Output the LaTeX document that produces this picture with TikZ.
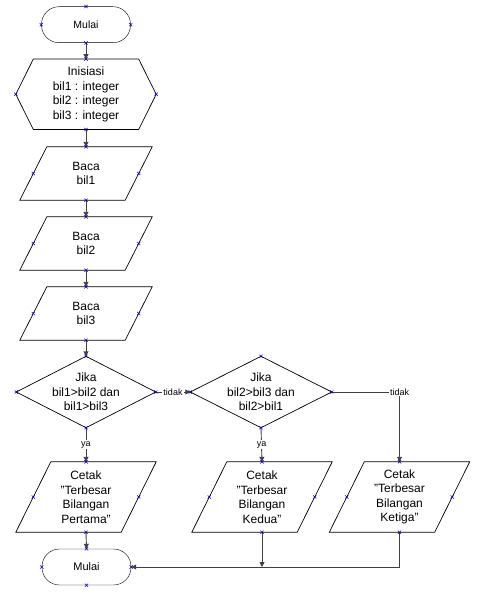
\documentclass[tikz,border=0pt]{standalone}
\usepackage{fontspec}
\setmainfont{Liberation Sans}
\usetikzlibrary{arrows.meta}

\begin{document}
\begin{tikzpicture}[x=1pt, y=-1pt,
    txt/.style={align=center, inner sep=0pt, font=\fontsize{12}{14.5}\selectfont},
    term/.style={draw, rounded corners=17.5pt, minimum width=89pt, minimum height=36pt, inner sep=0pt},
    shp/.style={line width=0.7pt},
    line/.style={draw=black!75, line width=0.9pt, -{Triangle[length=5pt,width=5pt]}},
    lbl/.style={fill=white, inner sep=1pt, font=\fontsize{9}{10}\selectfont},
    cp/.style={draw=blue!70!black, line width=0.5pt}]
    \useasboundingbox (0,0) rectangle (479,594);

    \node[term, font=\fontsize{10.5}{12}\selectfont] (m1) at (86,24.7) {Mulai};
    \node[txt, minimum width=140pt, minimum height=70pt] (init) at (86,94.3)
      {Inisiasi\\bil1 : integer\\bil2 : integer\\bil3 : integer};
    \draw[shp] ([xshift=17.5pt]init.north west) -- ([xshift=-17.5pt]init.north east) -- (init.east)
      -- ([xshift=-17.5pt]init.south east) -- ([xshift=17.5pt]init.south west) -- (init.west) -- cycle;

    \node[txt, minimum width=132pt, minimum height=53pt] (b1) at (86,173.5) {Baca\\bil1};
    \node[txt, minimum width=132pt, minimum height=53pt] (b2) at (86,243.5) {Baca\\bil2};
    \node[txt, minimum width=132pt, minimum height=53pt] (b3) at (86,313.5) {Baca\\bil3};
    \foreach \n in {b1,b2,b3}
      \draw[shp] ([xshift=27pt]\n.north west) -- (\n.north east) -- ([xshift=-27pt]\n.south east) -- (\n.south west) -- cycle;

    \node[txt, minimum width=139pt, minimum height=71pt] (d1) at (86,392) {Jika\\bil1>bil2 dan\\bil1>bil3};
    \node[txt, minimum width=141pt, minimum height=71pt] (d2) at (261,392) {Jika\\bil2>bil3 dan\\bil2>bil1};
    \foreach \n in {d1,d2}
      \draw[shp] (\n.north) -- (\n.east) -- (\n.south) -- (\n.west) -- cycle;

    \node[txt, minimum width=140pt, minimum height=70pt] (c1) at (86,497) {Cetak\\"Terbesar\\Bilangan\\Pertama"};
    \node[txt, minimum width=140pt, minimum height=70pt] (c2) at (262,497) {Cetak\\"Terbesar\\Bilangan\\Kedua"};
    \node[txt, minimum width=140pt, minimum height=70pt] (c3) at (399.5,497) {Cetak\\"Terbesar\\Bilangan\\Ketiga"};
    \foreach \n in {c1,c2,c3}
      \draw[shp] ([xshift=35pt]\n.north west) -- (\n.north east) -- ([xshift=-35pt]\n.south east) -- (\n.south west) -- cycle;

    \node[term, font=\fontsize{11}{13}\selectfont] (m2) at (86.5,567) {Mulai};

    \draw[line] (m1.south) -- (init.north);
    \draw[line] (init.south) -- (b1.north);
    \draw[line] (b1.south) -- (b2.north);
    \draw[line] (b2.south) -- (b3.north);
    \draw[line] (b3.south) -- (d1.north);
    \draw[line] (d1.east) -- node[lbl]{tidak} (d2.west);
    \draw[line] (d1.south) -- node[lbl]{ya} (c1.north);
    \draw[line] (d2.south) -- node[lbl]{ya} (c2.north);
    \draw[line] (d2.east) -| node[lbl, pos=0.5]{tidak} (c3.north);
    \draw[line] (c1.south) -- (m2.north);
    \draw[line] (c2.south) -- (c2.south |- m2.east);
    \draw[line] (c3.south) |- (m2.east);

    \foreach \n in {m1,init,b1,b2,b3,d1,d2,c1,c2,c3,m2}
      \foreach \a in {north,south}
        \draw[cp] (\n.\a) +(-1.6,-1.6) -- +(1.6,1.6) +(-1.6,1.6) -- +(1.6,-1.6);
    \foreach \n/\s in {m1/0,init/0,d1/0,d2/0,m2/0,b1/13.5,b2/13.5,b3/13.5,c1/17.5,c2/17.5,c3/17.5} {
      \draw[cp] ([xshift=\s pt]\n.west) +(-1.6,-1.6) -- +(1.6,1.6) +(-1.6,1.6) -- +(1.6,-1.6);
      \draw[cp] ([xshift=-\s pt]\n.east) +(-1.6,-1.6) -- +(1.6,1.6) +(-1.6,1.6) -- +(1.6,-1.6);
    }
\end{tikzpicture}
\end{document}
